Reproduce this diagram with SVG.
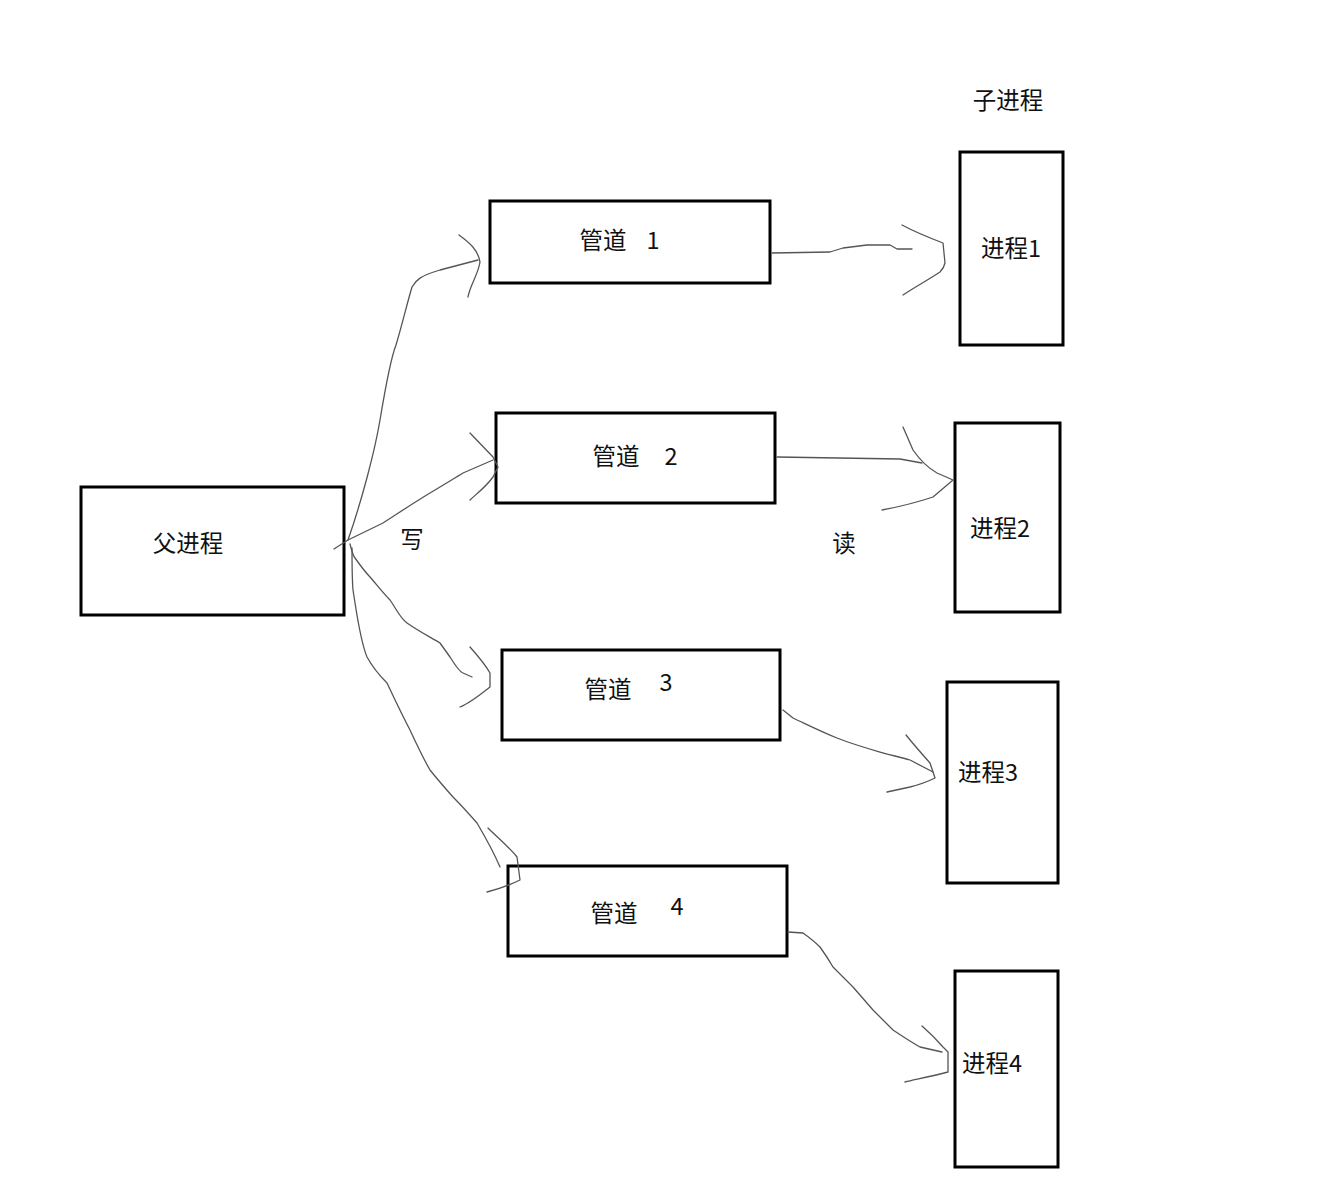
<svg xmlns="http://www.w3.org/2000/svg" width="1318" height="1203" viewBox="0 0 1318 1203">
<style>
.box{fill:#fff;stroke:#000;stroke-width:3}
.t{font-family:"Noto Sans CJK SC","Noto Sans",sans-serif;font-size:23.5px;fill:#111;text-anchor:middle;dominant-baseline:central}
.c{fill:none;stroke:#555;stroke-width:1.3;stroke-linejoin:round;stroke-linecap:round}
</style>
<rect width="1318" height="1203" fill="#fff"/>
<text class="t" x="1008" y="99">子进程</text>
<text class="t" x="412" y="538">写</text>
<text class="t" x="844" y="542">读</text>
<g id="parent"><rect class="box" x="81" y="487" width="263" height="128"/><text class="t" x="188" y="542">父进程</text></g>
<g id="pipe1"><rect class="box" x="490" y="201" width="280" height="82"/><text class="t" x="603" y="239">管道</text><text class="t" x="653" y="239">1</text></g>
<g id="pipe2"><rect class="box" x="496" y="413" width="279" height="90"/><text class="t" x="616" y="455">管道</text><text class="t" x="671" y="455">2</text></g>
<g id="pipe3"><rect class="box" x="502" y="650" width="278" height="90"/><text class="t" x="608" y="688">管道</text><text class="t" x="666" y="681">3</text></g>
<g id="pipe4"><rect class="box" x="508" y="866" width="279" height="90"/><text class="t" x="614" y="912">管道</text><text class="t" x="677" y="905">4</text></g>
<g id="proc1"><rect class="box" x="960" y="152" width="103" height="193"/><text class="t" x="1011" y="247">进程1</text></g>
<g id="proc2"><rect class="box" x="955" y="423" width="105" height="189"/><text class="t" x="1000" y="527">进程2</text></g>
<g id="proc3"><rect class="box" x="947" y="682" width="111" height="201"/><text class="t" x="988" y="771">进程3</text></g>
<g id="proc4"><rect class="box" x="955" y="971" width="103" height="196"/><text class="t" x="992" y="1062">进程4</text></g>
<g id="connectors">
<path class="c" d="M334,549 L348,540 C362,500 375,450 380,420 C385,390 390,360 396,345 C402,325 408,300 412,287 C416,280 420,276 440,270 L478,260"/>
<path class="c" d="M459,235 C470,243 478,250 480,262 C478,275 470,285 468,297"/>
<path class="c" d="M348,540 L383,523 C400,512 415,502 430,493 C445,484 455,478 463,473 L493,460"/>
<path class="c" d="M470,433 L493,457 L498,467 L493,477 C485,488 475,495 470,500"/>
<path class="c" d="M350,544 C352,552 353,556 355,558 C360,565 365,572 370,577 C377,585 383,593 390,600 C397,610 400,618 407,623 C420,632 430,637 440,643 L450,657 C455,665 460,672 463,673 L472,677"/>
<path class="c" d="M470,647 C478,656 485,664 490,673 L490,687 C480,695 470,703 460,707"/>
<path class="c" d="M352,548 C352,565 352,578 353,590 C357,615 360,640 367,657 C373,668 380,676 387,683 C395,700 402,715 410,730 C417,745 423,758 430,770 C438,780 445,788 453,797 C462,806 470,815 477,823 C487,840 494,853 500,867"/>
<path class="c" d="M488,828 C498,838 510,848 517,857 L520,880 C510,885 498,889 487,892"/>
<path class="c" d="M772,253 L830,252 L843,248 L867,245 L890,245 L897,249 L912,249"/>
<path class="c" d="M902,225 C915,232 930,238 943,243 L945,263 C944,268 942,270 940,272 C928,280 915,287 903,295"/>
<path class="c" d="M777,457 L900,459 L922,463"/>
<path class="c" d="M903,427 L913,450 C920,460 928,468 937,473 L953,480 L933,497 C915,503 898,507 882,510"/>
<path class="c" d="M783,710 L793,718 C808,725 822,732 837,738 C852,744 866,748 880,752 C890,755 900,757 910,760 L933,772"/>
<path class="c" d="M906,735 C914,745 922,754 930,763 L935,778 C927,782 918,785 910,787 L887,792"/>
<path class="c" d="M788,932 L803,933 C810,938 815,942 820,947 C825,954 829,960 833,967 C840,974 846,980 853,987 C860,995 866,1002 873,1010 C880,1017 886,1023 893,1030 C902,1036 911,1042 920,1047 L942,1052"/>
<path class="c" d="M922,1026 C930,1033 937,1040 943,1047 L948,1052 L948,1072 C933,1076 918,1079 905,1082"/>
</g>
</svg>
